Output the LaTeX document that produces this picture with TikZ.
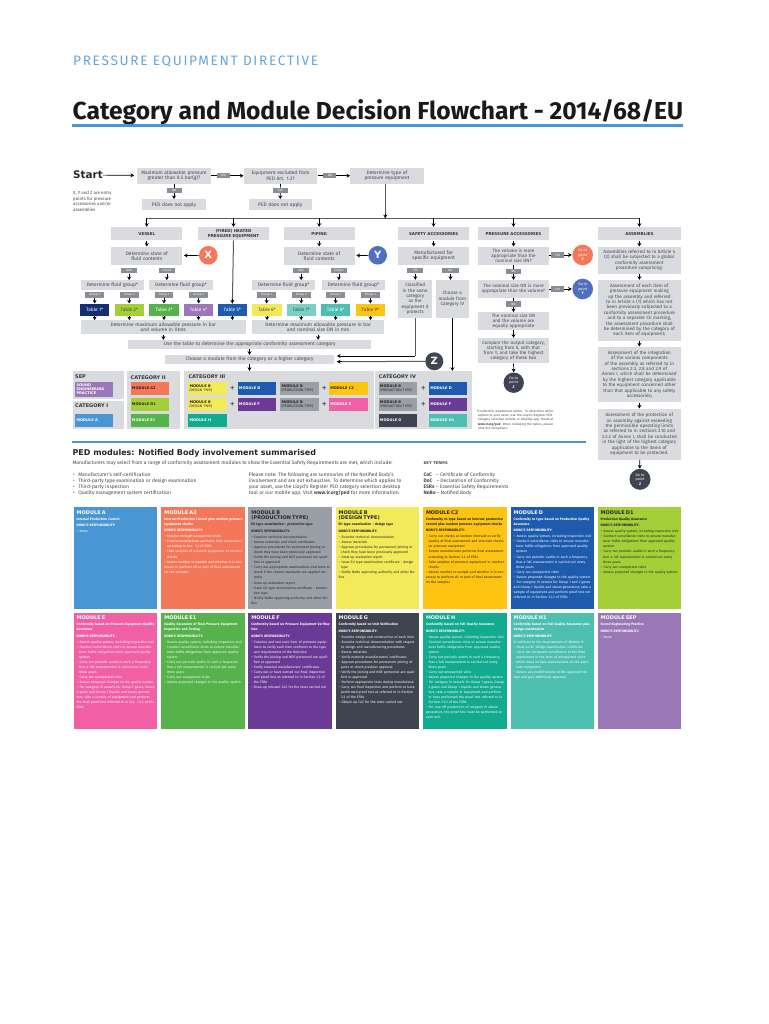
\documentclass[tikz,border=0pt]{standalone}
\usepackage{fontspec}
\setmainfont{Fira Sans}
\newfontfamily\wide{DejaVu Sans}
\newfontfamily\spaced[LetterSpace=12]{Fira Sans}
\usetikzlibrary{arrows.meta}
\definecolor{pgray}{HTML}{D9DBDE}
\definecolor{ptag}{HTML}{8A8E94}
\definecolor{ptext}{HTML}{45484D}
\definecolor{pblue}{HTML}{4A96D4}
\definecolor{porange}{HTML}{F4775A}
\definecolor{pmid}{HTML}{9A9EA5}
\definecolor{pyellow}{HTML}{F3EA5A}
\definecolor{pgold}{HTML}{FDC512}
\definecolor{proyal}{HTML}{1F5BAD}
\definecolor{plime}{HTML}{A4CF37}
\definecolor{ppink}{HTML}{F15FA5}
\definecolor{pgreen}{HTML}{56B24A}
\definecolor{ppurple}{HTML}{6A3A96}
\definecolor{pslate}{HTML}{3F4450}
\definecolor{pteal}{HTML}{12AB8F}
\definecolor{pteal2}{HTML}{4CBFB0}
\definecolor{pviolet}{HTML}{9A78B8}
\definecolor{pnavy}{HTML}{152E73}
\definecolor{pmint}{HTML}{7AD0C3}
\definecolor{pcircle}{HTML}{4F6FBF}
\tikzset{
  box/.style={fill=pgray,text=ptext,inner sep=0pt,align=center,font=\fontsize{4.9}{5.3}\selectfont},
  headbox/.style={box,font=\wide\bfseries\fontsize{4}{5.2}\selectfont,text=black!80},
  longbox/.style={box,font=\fontsize{4.6}{5.4}\selectfont},
  tagbox/.style={fill=ptag,text=white,inner sep=0pt,minimum height=5.6pt,font=\fontsize{3.1}{3.2}\selectfont},
  tablebox/.style={inner sep=0pt,align=center,font=\fontsize{4.8}{5}\selectfont},
  panel/.style={fill=pgray,inner sep=0pt},
  paneltitle/.style={anchor=west,inner sep=0pt,text=black!80,font=\wide\bfseries\fontsize{5}{5.5}\selectfont},
  chip/.style={inner sep=0pt,align=left,font=\wide\bfseries\fontsize{3.6}{3.9}\selectfont},
  arr/.style={draw=black,line width=0.7pt,-{Stealth[length=3.6pt,width=4pt]}},
  heavy/.style={draw=black!65,line width=1pt},
  dot/.style={circle,inner sep=0pt,text=white,align=center},
  letterdot/.style={dot,font=\wide\bfseries\fontsize{10}{10}\selectfont},
  godot/.style={dot,font=\fontsize{3.7}{4.6}\selectfont},
  plus/.style={inner sep=0pt,text=ptext,font=\fontsize{10}{10}\selectfont},
  plain/.style={inner sep=0pt,anchor=west,align=left,text=ptext,font=\fontsize{5}{6.05}\selectfont},
  cardtext/.style={anchor=north west,inner sep=0pt,align=left,font=\fontsize{3.4}{5.05}\selectfont},
}
\newcommand\bx[7][]{%
  \pgfmathsetmacro\bw{#5-#3}\pgfmathsetmacro\bh{#6-#4}\pgfmathsetmacro\bt{\bw-3}%
  \pgfmathsetmacro\cx{(#3+#5)/2}\pgfmathsetmacro\cy{(#4+#6)/2}%
  \node[box,minimum width=\bw pt,minimum height=\bh pt,text width=\bt pt,#1] (#2) at (\cx,\cy) {#7};}
\newcommand\tg[5]{% name x1 x2 cy text
  \pgfmathsetmacro\bw{#3-#2}\pgfmathsetmacro\cx{(#2+#3)/2}%
  \node[tagbox,minimum width=\bw pt] (#1) at (\cx,#4) {#5};}
\newcommand\card[9]{% name x1 y1 x2 y2 fill text head body
  \pgfmathsetmacro\bw{#4-#2}\pgfmathsetmacro\bh{#5-#3}\pgfmathsetmacro\bt{\bw-4.5}%
  \pgfmathsetmacro\cx{(#2+#4)/2}\pgfmathsetmacro\cy{(#3+#5)/2}%
  \node[fill=#6,inner sep=0pt,minimum width=\bw pt,minimum height=\bh pt] (#1) at (\cx,\cy) {};
  \node[cardtext,text=#7,text width=\bt pt] (#1t) at ([xshift=3pt,yshift=-3pt]#1.north west)
   {{\wide\bfseries\fontsize{5}{5.8}\selectfont #8\par}\vspace{1pt}#9};}
\newcommand\cs[1]{{\bfseries #1\par}\vspace{1.6pt}}
\newcommand\nb{{\bfseries NOBO'S RESPONSIBILITY:\par}\vspace{1pt}}
\newcommand\li[1]{\par\hangindent=2.5pt\hangafter=1 – #1}
\begin{document}
\begin{tikzpicture}[x=1pt,y=-1pt]
\path[fill=white,use as bounding box] (0,0) rectangle (768,1024);

% ---- header
\node[anchor=west,inner sep=0pt,text=pblue!85,font=\spaced\fontsize{13.7}{14}\selectfont] (sup) at (73,61) {PRESSURE EQUIPMENT DIRECTIVE};
\node[anchor=west,inner sep=0pt,text=black!90,font=\bfseries\fontsize{24.6}{26}\selectfont] (ttl) at (72.5,112) {Category and Module Decision Flowchart - 2014/68/EU};
\node[fill=pblue,inner sep=0pt,minimum width=611pt,minimum height=2.4pt] (rule1) at (377.5,125.4) {};

% ---- first row
\node[anchor=west,inner sep=0pt,text=black!85,font=\wide\bfseries\fontsize{10.4}{11}\selectfont] (start) at (73,175) {Start};
\node[plain,font=\fontsize{4.4}{5.7}\selectfont] (entry) at (73,201.5) {X, Y and Z are entry\\points for pressure\\accessories and/or\\assemblies};
\bx{m1}{137.3}{167.7}{210.7}{183.7}{Maximum allowable pressure\\greater than 0.5 bar(g)?}
\bx{m2}{243.7}{167.7}{317.3}{183.7}{Equipment excluded from\\PED Art. 1.2?}
\bx{m3}{350.3}{167.7}{423.7}{183.7}{Determine type of\\pressure equipment}
\bx{n1}{142.3}{199.3}{205.7}{210.3}{PED does not apply}
\bx{n2}{248.7}{199.3}{311.7}{210.3}{PED does not apply}
\draw[arr,shorten >=3pt] (start) -- (m1);
\draw[arr] (m1) -- node[tagbox,minimum width=13pt,pos=0.38] (ty1) {YES} (m2);
\draw[arr] (m2) -- node[tagbox,minimum width=13pt,pos=0.38] (tn2) {NO} (m3);
\draw[arr] (m1) -- node[tagbox,minimum width=15pt,pos=0.43] (tn1) {NO} (n1);
\draw[arr] (m2) -- node[tagbox,minimum width=15pt,pos=0.43] (ty2) {YES} (n2);

% ---- top types
\bx[headbox]{vessel}{111.3}{227}{182.3}{240.3}{VESSEL}
\bx[headbox]{fired}{198}{227}{269}{240.3}{(FIRED) HEATED\\PRESSURE EQUIPMENT}
\bx[headbox]{piping}{283.7}{227}{354.7}{240.3}{PIPING}
\bx[headbox]{safety}{398.3}{227}{469}{240.3}{SAFETY ACCESSORIES}
\bx[headbox]{press}{478}{227}{549}{240.3}{PRESSURE ACCESSORIES}
\bx[headbox]{assem}{597.7}{227}{681}{240.3}{ASSEMBLIES}

% ---- bus
\coordinate (busL) at (147.3,218.3);
\coordinate (busM) at (385.3,218.3);
\draw[heavy] (vessel.north |- busL) -- (assem.north |- busL);
\draw[heavy] (m3.south -| busM) -- (busM);
\draw[arr] ([yshift=4.5pt]busM) -- (busM);
\foreach \t in {vessel,fired,piping,safety,press,assem}
  \draw[arr] (\t.north |- busL) -- (\t.north);

% ---- state boxes
\bx{stv}{111.3}{246.7}{182.3}{265}{Determine state of\\fluid contents}
\bx{stp}{283.7}{246.7}{354.7}{265}{Determine state of\\fluid contents}
\node[letterdot,fill=porange,minimum size=18.6pt] (X) at (208.3,255.3) {X};
\node[letterdot,fill=pcircle,minimum size=18.6pt] (Y) at (377.7,255.3) {Y};
\draw[arr,shorten >=1.5pt] (X) -- (stv);
\draw[arr,shorten >=1.5pt] (Y) -- (stp);
\draw[arr] (vessel) -- (stv);
\draw[arr] (piping) -- (stp);

% ---- fluid groups
\bx{fg1}{80.7}{280.3}{144}{290}{Determine fluid group*}
\bx{fg2}{149.3}{280.3}{212.7}{290}{Determine fluid group*}
\bx{fg3}{252.3}{280.3}{315.3}{290}{Determine fluid group*}
\bx{fg4}{321.7}{280.3}{385}{290}{Determine fluid group*}
\tg{g1}{121}{137.3}{270.5}{GAS}
\tg{l1}{158.7}{175}{270.5}{LIQUID}
\tg{g2}{293}{309.3}{270.5}{GAS}
\tg{l2}{330.7}{347}{270.5}{LIQUID}
\draw[arr] (g1.south) -- (g1.south |- fg1.north);
\draw[arr] (l1.south) -- (l1.south |- fg2.north);
\draw[arr] (g2.south) -- (g2.south |- fg3.north);
\draw[arr] (l2.south) -- (l2.south |- fg4.north);

% ---- tables
\foreach \n/\a/\b/\c/\tc/\lab in {
  t1/80/109.3/pnavy/white/Table 1*,
  t2/114.7/144/plime/ptext/Table 2*,
  t3/149.3/178.7/pgreen/white/Table 3*,
  t4/184/213/pviolet/white/Table 4*,
  t5/218/246.7/proyal/white/Table 5*,
  t6/252.3/281.7/pyellow/ptext/Table 6*,
  t7/286.7/315.7/pmint/ptext/Table 7*,
  t8/321.3/350/pteal2/white/Table 8*,
  t9/356/385/pgold/ptext/Table 9*}{
  \pgfmathsetmacro\bw{\b-\a}\pgfmathsetmacro\cx{(\a+\b)/2}
  \node[tablebox,fill=\c,text=\tc,minimum width=\bw pt,minimum height=12pt] (\n) at (\cx,309.7) {\lab};
}
\foreach \n/\a/\b/\lab/\tb in {
  q1/85.3/104/Group 1/t1, q2/119.7/138.7/Group 2/t2, q3/154.7/173.3/Group 1/t3, q4/189.3/208/Group 2/t4,
  q6/257.3/276/Group 1/t6, q7/291.7/310.7/Group 2/t7, q8/326.3/345/Group 1/t8, q9/361/379.7/Group 2/t9}{
  \pgfmathsetmacro\bw{\b-\a}\pgfmathsetmacro\cx{(\a+\b)/2}
  \node[tagbox,minimum width=\bw pt] (\n) at (\cx,294.8) {\lab};
  \draw[arr] (\n.south) -- (\n.south |- \tb.north);
}
\draw[heavy] (fired.south) -- (t5.north);
\draw[arr] ([yshift=5pt]t5.north) -- (t5.north);

% ---- max-pressure boxes
\bx{mx1}{80.7}{320.3}{246}{334.3}{Determine maximum allowable pressure in bar\\and volume in litres}
\bx{mx2}{252}{320.3}{384.3}{334.3}{Determine maximum allowable pressure in bar\\and nominal size DN in mm}
\foreach \n/\m in {t1/mx1,t2/mx1,t3/mx1,t4/mx1,t5/mx1,t6/mx2,t7/mx2,t8/mx2,t9/mx2}
  \draw[arr] (\n.south) -- (\n.south |- \m.north);
\bx{use}{128}{340}{371.3}{348.7}{Use the table to determine the appropriate conformity assessment category}
\bx{cho}{165}{355}{334}{364}{Choose a module from the category or a higher category}
\draw[arr] (mx1.south) -- (mx1.south |- use.north);
\draw[arr] (mx2.south) -- (mx2.south |- use.north);
\draw[arr] (use.south -| cho.north) -- (cho.north);

% ---- panels
\bx[panel]{psep}{72.7}{371}{124}{399.3}{}
\bx[panel]{pc1}{72.7}{401}{124}{429.3}{}
\bx[panel]{pc2}{127.3}{371}{179.7}{429.3}{}
\bx[panel]{pc3}{184}{371}{373.7}{429.3}{}
\bx[panel]{pc4}{375}{371}{471.7}{429.3}{}
\draw[arr] (cho.south) -- (cho.south |- pc3.north);
\node[paneltitle] (lsep) at (75,377) {SEP};
\node[paneltitle] (lc1) at (75,405.5) {CATEGORY I};
\node[paneltitle] (lc2) at (130.5,377.5) {CATEGORY II};
\node[paneltitle] (lc3) at (188.3,377) {CATEGORY III};
\node[paneltitle] (lc4) at (378.7,377) {CATEGORY IV};
\newcommand\chp[7]{% name x1 x2 y1 y2 fill,text content
  \pgfmathsetmacro\bw{#3-#2}\pgfmathsetmacro\bh{#5-#4}\pgfmathsetmacro\bt{\bw-2.5}\pgfmathsetmacro\cx{(#2+#3)/2}\pgfmathsetmacro\cy{(#4+#5)/2}%
  \node[chip,#6,minimum width=\bw pt,minimum height=\bh pt,text width=\bt pt] (#1) at (\cx,\cy) {#7};}
\newcommand\subt[1]{\\[-0.3pt]{\rmfamily\mdseries\fontsize{3.5}{3.8}\selectfont #1}}
\chp{csep}{75.3}{113}{381.7}{397.3}{fill=pviolet,text=white}{SOUND\\ENGINEERING\\PRACTICE}
\chp{ca}{75.3}{113}{413.7}{427}{fill=pblue,text=white}{MODULE A}
\chp{ca2}{130.7}{169}{381.7}{395}{fill=porange,text=black!85}{MODULE A2}
\chp{cd1}{130.7}{169}{398}{411.3}{fill=plime,text=black!85}{MODULE D1}
\chp{ce1}{130.7}{169}{414}{427}{fill=pgreen,text=white}{MODULE E1}
\chp{cb1}{188.3}{226.7}{381.7}{395}{fill=pyellow,text=black!85}{MODULE B\subt{(DESIGN TYPE)}}
\chp{cd3}{237.7}{276.3}{381.7}{395}{fill=proyal,text=white}{MODULE D}
\chp{cb2}{280.3}{319}{381.7}{395}{fill=pmid,text=black!85}{MODULE B\subt{(PRODUCTION TYPE)}}
\chp{cc2}{329}{367.7}{381.7}{395}{fill=pgold,text=black!85}{MODULE C2}
\chp{cb3}{188.3}{226.7}{398}{411.3}{fill=pyellow,text=black!85}{MODULE B\subt{(DESIGN TYPE)}}
\chp{cf3}{237.7}{276.3}{398}{411.3}{fill=ppurple,text=white}{MODULE F}
\chp{cb4}{280.3}{319}{398}{411.3}{fill=pmid,text=black!85}{MODULE B\subt{(PRODUCTION TYPE)}}
\chp{ce3}{329}{367.7}{398}{411.3}{fill=ppink,text=white}{MODULE E}
\chp{ch3}{188.3}{226.7}{414}{427}{fill=pteal,text=white}{MODULE H}
\chp{cb5}{378.7}{417}{381.7}{395}{fill=pmid,text=black!85}{MODULE B\subt{(PRODUCTION TYPE)}}
\chp{cd4}{429}{467.3}{381.7}{395}{fill=proyal,text=white}{MODULE D}
\chp{cb6}{378.7}{417}{398}{411.3}{fill=pmid,text=black!85}{MODULE B\subt{(PRODUCTION TYPE)}}
\chp{cf4}{429}{467.3}{398}{411.3}{fill=ppurple,text=white}{MODULE F}
\chp{cg4}{378.7}{417}{414}{427}{fill=pslate,text=white}{MODULE G}
\chp{ch4}{429}{467.3}{414}{427}{fill=pteal2,text=white}{MODULE H1}
\node[plus] (p1) at (232.3,388.5) {+};
\node[plus] (p2) at (324.3,388.5) {+};
\node[plus] (p3) at (232.3,404.5) {+};
\node[plus] (p4) at (324.3,404.5) {+};
\node[plus] (p5) at (423.3,388.5) {+};
\node[plus] (p6) at (423.3,404.5) {+};

% ---- safety accessories
\bx{ms}{398.3}{246.7}{469}{265}{Manufactured for\\specific equipment}
\draw[arr] (safety) -- (ms);
\tg{sy}{407.3}{423.3}{270.5}{YES}
\tg{sn}{442.3}{458.7}{270.5}{NO}
\bx[font=\fontsize{4.6}{5.3}\selectfont]{cl}{398.3}{280}{432}{317.7}{Classified\\in the same\\category\\as the\\equipment it\\protects}
\bx[font=\fontsize{4.6}{5.3}\selectfont]{cm}{435.7}{280}{469}{317.7}{Choose a\\module from\\Category IV}
\draw[arr] (sy.south) -- (sy.south |- cl.north);
\draw[arr] (sn.south) -- (sn.south |- cm.north);
\node[letterdot,fill=pslate,minimum size=18pt] (Z) at (434.3,361.3) {Z};
\coordinate (inA) at (337,356);
\coordinate (inB) at (337,361.7);
\draw[heavy] (cl.south) -- (cl.south |- inA);
\draw[arr] (cl.south |- inA) -- (inA);
\draw[heavy] (Z) -- (inB);
\draw[arr] ([xshift=5pt]inB) -- (inB);
\draw[arr] (cm.south) -- (cm.south |- pc4.north);

% ---- pressure accessories
\bx[font=\fontsize{4.6}{5.1}\selectfont]{pa1}{478}{246.7}{549}{265}{The volume is more\\appropriate than the\\nominal size DN?}
\bx[font=\fontsize{4.6}{5.1}\selectfont]{pa2}{478}{280}{549}{297.7}{The nominal size DN is more\\appropriate than the volume?}
\bx[font=\fontsize{4.6}{5.1}\selectfont]{pa3}{478}{312.3}{549}{329.7}{The nominal size DN\\and the volume are\\equally appropriate}
\bx[font=\fontsize{4.6}{5.1}\selectfont]{pa4}{478}{338}{549}{363.3}{Compare the output category,\\starting from X, with that\\from Y, and take the highest\\category of these two}
\node[godot,fill=porange,minimum size=20.6pt] (gx) at (582.7,255) {Go to\\point\\\textbf{X}};
\node[godot,fill=pcircle,minimum size=20.6pt] (gy) at (582.7,289) {Go to\\point\\\textbf{Y}};
\node[godot,fill=pslate,minimum size=20.4pt] (gz1) at (513.7,382.7) {Go to\\point\\\textbf{Z}};
\node[godot,fill=pslate,minimum size=21pt] (gz2) at (640,479.3) {Go to\\point\\\textbf{Z}};
\draw[arr] (press) -- (pa1);
\draw[arr,shorten >=0.5pt] (gx -| pa1.east) -- node[tagbox,minimum width=13pt,pos=0.37] (py1) {YES} (gx);
\draw[arr,shorten >=0.5pt] (gy -| pa2.east) -- node[tagbox,minimum width=13pt,pos=0.37] (py2) {YES} (gy);
\draw[arr] (pa1) -- node[tagbox,minimum width=15.7pt,pos=0.43] (pn1) {NO} (pa2);
\draw[arr] (pa2) -- node[tagbox,minimum width=15.7pt,pos=0.43] (pn2) {NO} (pa3);
\draw[arr] (pa3) -- (pa4);
\draw[arr] (pa4) -- (gz1);
\node[inner sep=0pt,anchor=north west,align=left,text width=92pt,text=ptext,font=\fontsize{3.2}{4.4}\selectfont] (fn) at (476.7,409.5)
  {*Conformity assessment tables. To determine which\\\hspace*{1pt}applies to your asset, use the Lloyd's Register PED\\\hspace*{1pt}category selection mobile or desktop app, found at\\\hspace*{1pt}\textbf{www.lr.org/ped}. When reviewing the tables, please\\\hspace*{1pt}note the exceptions.};

% ---- assemblies
\bx[longbox]{as1}{597.7}{246.7}{681}{273.7}{Assemblies referred to in Article 4\\(2) shall be subjected to a global\\conformity assessment\\procedure comprising:}
\bx[longbox]{as2}{597.7}{280}{681}{340.7}{Assessment of each item of\\pressure equipment making\\up the assembly and referred\\to in Article 4 (1) which has not\\been previously subjected to a\\conformity assessment procedure\\and to a separate CE marking,\\the assessment procedure shall\\be determined by the category of\\each item of equipment;}
\bx[longbox]{as3}{597.7}{346.7}{681}{402.3}{Assessment of the integration\\of the various components\\of the assembly as referred to in\\sections 2.3, 2.8 and 2.9 of\\Annex I, which shall be determined\\by the highest category applicable\\to the equipment concerned other\\than that applicable to any safety\\accessories;}
\bx[longbox]{as4}{597.7}{408.7}{681}{459.7}{Assessment of the protection of\\an assembly against exceeding\\the permissible operating limits\\as referred to in sections 2.10 and\\3.2.3 of Annex I, shall be conducted\\in the light of the highest category\\applicable to the items of\\equipment to be protected.}
\draw[arr] (assem) -- (as1);
\draw[arr] (as1) -- (as2);
\draw[arr] (as2) -- (as3);
\draw[arr] (as3) -- (as4);
\draw[arr] (as4) -- (gz2);

% ---- summary
\node[fill=pblue,inner sep=0pt,minimum width=514pt,minimum height=1.8pt] (rule2) at (329,441.7) {};
\node[anchor=west,inner sep=0pt,text=black!85,font=\wide\bfseries\fontsize{8}{9}\selectfont] (smh) at (72.3,453.7) {PED modules: Notified Body involvement summarised};
\node[plain] (lead) at (72.3,463.3) {Manufacturers may select from a range of conformity assessment modules to show the Essential Safety Requirements are met, which include:};
\node[plain,anchor=north west] (bl) at (73,472.5) {•\hspace{3.5pt}Manufacturer's self-certification\\•\hspace{3.5pt}Third-party type examination or design examination\\•\hspace{3.5pt}Third-party inspection\\•\hspace{3.5pt}Quality management system certification};
\node[plain,anchor=north west] (nt) at (248.7,472.5) {Please note: The following are summaries of the Notified Body's\\involvement and are not exhaustive. To determine which applies to\\your asset, use the Lloyd's Register PED category selection desktop\\tool or our mobile app. Visit \textbf{www.lr.org/ped} for more information.};
\node[plain,font=\wide\bfseries\fontsize{3.8}{5}\selectfont] (kt) at (423.3,463) {KEY TERMS};
\node[plain,anchor=north west] (kk) at (423.3,472.5) {\textbf{CoC}\hspace{4pt}– Certificate of Conformity\\\textbf{DoC}\hspace{4pt}– Declaration of Conformity\\\textbf{ESRs}\hspace{1.5pt}– Essential Safety Requirements\\\textbf{NoBo}\hspace{1pt}– Notified Body};

% ---- cards
\card{ka}{73.7}{507.3}{157}{609.3}{pblue}{white}{MODULE A}{\cs{Internal Production Control}\nb – None}
\card{ka2}{161.3}{507.3}{244.7}{609.3}{porange}{white}{MODULE A2}{\cs{Internal Production Control plus random pressure equipment checks}\nb
 \li{Monitor through unexpected visits}\li{Ensure manufacturer performs final assessment according to Sec. 3.2 of ESRs}\li{Take samples of pressure equipment to conduct checks}\li{Assess number to sample and whether it is necessary to perform all or part of final assessment on the samples}}
\card{kbp}{248.3}{507.3}{332.3}{609.3}{pmid}{black!85}{MODULE B\\(PRODUCTION TYPE)}{\cs{EU type examination - production type}\nb
 \li{Examine technical documentation}\li{Assess materials and check certificates}\li{Approve procedures for permanent joining or check they have been previously approved}\li{Verify the joining and NDE personnel are qualified or approved}\li{Carry out appropriate examinations and tests to check if the chosen standards are applied correctly}\li{Draw up evaluation report}\li{Issue EU type-examination certificate - production type}\li{Notify NoBo approving authority and other NoBos}}
\card{kbd}{335.7}{507.3}{419}{609.3}{pyellow}{black!85}{MODULE B\\(DESIGN TYPE)}{\cs{EU type examination - design type}\nb
 \li{Examine technical documentation}\li{Assess materials}\li{Approve procedures for permanent joining or check they have been previously approved}\li{Draw up evaluation report}\li{Issue EU type-examination certificate - design type}\li{Notify NoBo approving authority and other NoBos}}
\card{kc2}{423}{507.3}{506.7}{609.3}{pgold}{black!85}{MODULE C2}{\cs{Conformity to type based on internal production control plus random pressure equipment checks}\nb
 \li{Carry out checks at random intervals to verify quality of final assessment and internals checks on pressure equipment}\li{Ensure manufacturer performs final assessment according to Section 3.2 of ESRs}\li{Take samples of pressure equipment to conduct checks}\li{Assess number to sample and whether it is necessary to perform all or part of final assessment on the samples}}
\card{kd}{510.7}{507.3}{594}{609.3}{proyal}{white}{MODULE D}{\cs{Conformity to type based on Production Quality Assurance}\nb
 \li{Assess quality system, including inspection visit}\li{Conduct surveillance visits to ensure manufacturer fulfils obligations from approved quality system}\li{Carry out periodic audits in such a frequency that a full reassessment is carried out every three years}\li{Carry out unexpected visits}\li{Assess proposed changes to the quality system}\li{For category III vessels for Group 1 and 2 gases and Group 1 liquids and steam generators, take a sample of equipment and perform proof test not referred to in Section 3.2.2 of ESRs}}
\card{kd1}{597.7}{507.3}{681}{609.3}{plime}{black!85}{MODULE D1}{\cs{Production Quality Assurance}\nb
 \li{Assess quality system, including inspection visit}\li{Conduct surveillance visits to ensure manufacturer fulfils obligations from approved quality system}\li{Carry out periodic audits in such a frequency that a full reassessment is carried out every three years}\li{Carry out unexpected visits}\li{Assess proposed changes to the quality system}}

\card{ke}{73.7}{612.7}{157}{728.7}{ppink}{white}{MODULE E}{\cs{Conformity based on Pressure Equipment Quality Assurance}\nb
 \li{Assess quality system, including inspection visit}\li{Conduct surveillance visits to ensure manufacturer fulfils obligations from approved quality system}\li{Carry out periodic audits in such a frequency that a full reassessment is carried out every three years}\li{Carry out unexpected visits}\li{Assess proposed changes to the quality system}\li{For category III vessels for Group 1 gases, Group 2 gases and Group 1 liquids and steam generators, take a sample of equipment and perform the final proof test referred to in Sec. 3.2.2 of the ESRs}}
\card{ke1}{161.3}{612.7}{244.7}{728.7}{pgreen}{white}{MODULE E1}{\cs{Quality Assurance of Final Pressure Equipment Inspection and Testing}\nb
 \li{Assess quality system, including inspection visit}\li{Conduct surveillance visits to ensure manufacturer fulfils obligations from approved quality system}\li{Carry out periodic audits in such a frequency that a full reassessment is carried out every three years}\li{Carry out unexpected visits}\li{Assess proposed changes to the quality system}}
\card{kf}{248.3}{612.7}{332.3}{728.7}{ppurple}{white}{MODULE F}{\cs{Conformity based on Pressure Equipment Verification}\nb
 \li{Examine and test each item of pressure equipment to verify each item conforms to the type and requirements of the Directive}\li{Verify the joining and NDE personnel are qualified or approved}\li{Verify material manufacturers' certificates}\li{Carry out or have carried out final inspection and proof test as referred to in Section 3.2 of the ESRs}\li{Draw up relevant CoC for the tests carried out}}
\card{kg}{335.7}{612.7}{419}{728.7}{pslate}{white}{MODULE G}{\cs{Conformity based on Unit Verification}\nb
 \li{Examine design and construction of each item}\li{Examine technical documentation with respect to design and manufacturing procedures}\li{Assess materials}\li{Verify material manufacturers' certificates}\li{Approve procedures for permanent joining of parts or check previous approval}\li{Verify the joining and NDE personnel are qualified or approved}\li{Perform appropriate tests during manufacture}\li{Carry out final inspection and perform or have performed proof test as referred to in Section 3.2 of the ESRs}\li{Obtain up CoC for the tests carried out}}
\card{kh}{423}{612.7}{506.7}{728.7}{pteal}{white}{MODULE H}{\cs{Conformity based on Full Quality Assurance}\nb
 \li{Assess quality system, including inspection visit}\li{Conduct surveillance visits to ensure manufacturer fulfils obligations from approved quality system}\li{Carry out periodic audits in such a frequency that a full reassessment is carried out every three years}\li{Carry out unexpected visits}\li{Assess proposed changes to the quality system}\li{For category III vessels for Group 1 gases, Group 2 gases and Group 1 liquids and steam generators, take a sample of equipment and perform or have performed the proof test referred to in Section 3.2.2 of the ESRs}\li{For one-off production of category III steam generators, the proof test must be performed on each unit}}
\card{kh1}{510.7}{612.7}{594}{728.7}{pteal2}{white}{MODULE H1}{\cs{Conformity based on Full Quality Assurance plus design examination}\nb
 In addition to the requirements of Module H:\li{Issue an EC design-examination certificate}\li{Carry out increased surveillance of the final assessment in the form of unexpected visits which must include examinations on the pressure equipment}\li{Assess any modifications to the approved design and give additional approval}}
\card{ksep}{597.7}{612.7}{681}{728.7}{pviolet}{white}{MODULE SEP}{\cs{Sound Engineering Practice}\nb – None}
\end{tikzpicture}
\end{document}
